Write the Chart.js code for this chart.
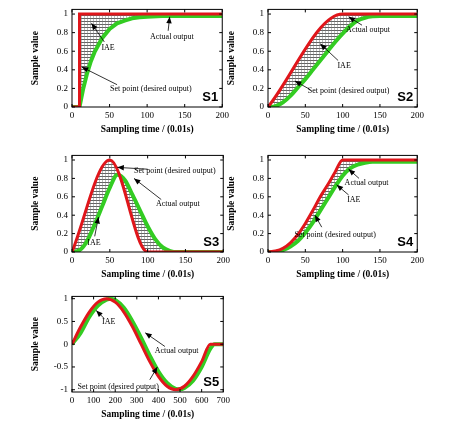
<!DOCTYPE html>
<html><head><meta charset="utf-8">
<script src="https://cdn.jsdelivr.net/npm/chart.js@4"></script>
<style>body{margin:0;background:#fff;width:474px;height:421px;position:relative;overflow:hidden}
.c{position:absolute}</style></head><body>
<div class="c" id="w1" style="left:30px;top:0;width:202px;height:135px"><canvas id="c1"></canvas></div>
<div class="c" id="w2" style="left:226px;top:0;width:201px;height:135px"><canvas id="c2"></canvas></div>
<div class="c" id="w3" style="left:30px;top:146px;width:203px;height:134px"><canvas id="c3"></canvas></div>
<div class="c" id="w4" style="left:226px;top:146px;width:201px;height:134px"><canvas id="c4"></canvas></div>
<div class="c" id="w5" style="left:30px;top:287px;width:203px;height:133px"><canvas id="c5"></canvas></div>
<script>
// ---- data ----
const s1SetT=[0,10,10,200], s1Set=[0,0,1,1];
const s1ActT=[0,10,15,20,25,30,40,50,60,70,80,90,100,120,140,160,200];
const s1Act=[0,0,0.2,0.36,0.49,0.59,0.74,0.84,0.9,0.93,0.955,0.965,0.972,0.978,0.98,0.98,0.98];
const s2SetT=[0,100,200], s2Set=[0,1,1];
const s2ActT=[0,10,20,30,40,50,60,70,80,90,100,110,120,130,140,150,200];
const s2Act=[0,0.01,0.05,0.12,0.21,0.3,0.4,0.5,0.6,0.7,0.79,0.87,0.93,0.96,0.975,0.98,0.98];
const s3SetT=[0,50,100,200], s3Set=[0,1,0,0];
const s3ActT=[0,10,20,30,40,50,60,70,80,90,100,110,120,130,140,200];
const s3Act=[0,0.02,0.12,0.3,0.5,0.7,0.84,0.78,0.62,0.45,0.28,0.14,0.05,0.01,0,0];
const s4SetT=[0,10,20,30,40,50,60,70,80,90,100,200];
const s4Set=[0,0.01,0.04,0.1,0.19,0.31,0.45,0.6,0.73,0.87,1,1];
const s4ActT=[0,10,20,30,40,50,60,70,80,90,100,110,120,130,140,150,200];
const s4Act=[0,0,0.02,0.06,0.12,0.21,0.32,0.45,0.58,0.71,0.83,0.91,0.95,0.97,0.98,0.98,0.98];
const s5SetT=[0,40,80,120,160,200,240,280,320,360,400,440,480,520,560,600,640,700];
const s5Set=[0,0.383,0.707,0.924,1,0.924,0.707,0.383,0,-0.383,-0.707,-0.924,-1,-0.924,-0.707,-0.383,0,0];
const s5ActT=[0,40,80,120,160,180,200,240,280,320,360,400,440,480,500,520,560,600,640,660,700];
const s5Act=[0,0.25,0.6,0.85,0.98,1,0.97,0.8,0.5,0.14,-0.25,-0.6,-0.85,-0.98,-0.99,-0.96,-0.8,-0.5,-0.1,0,0];
const ticks01=[0,0.2,0.4,0.6,0.8,1], ticks5=[-1,-0.5,0,0.5,1];
const xT200=[0,50,100,150,200], xT700=[0,100,200,300,400,500,600,700];
// annotations: text, text x/y, arrow from x/y, arrow tip x/y (data units)
const ann1=[["IAE",48,0.64,43,0.7,26,0.9],["Actual output",133,0.75,128,0.82,130,0.97],["Set point (desired output)",105,0.2,60,0.24,13,0.43]];
const ann2=[["Actual output",134,0.83,126,0.88,108,0.97],["IAE",102,0.44,94,0.5,70,0.68],["Set point (desired output)",108,0.17,56,0.19,36,0.28]];
const ann3=[["Set point (desired output)",136,0.88,100,0.9,60,0.92],["Actual output",140,0.52,118,0.57,82,0.8],["IAE",29,0.1,30,0.17,35,0.38]];
const ann4=[["Actual output",132,0.75,122,0.8,108,0.9],["IAE",115,0.57,108,0.62,92,0.73],["Set point (desired output)",90,0.19,72,0.27,63,0.4]];
const ann5=[["IAE",170,0.48,150,0.56,112,0.74],["Actual output",484,-0.14,430,-0.05,339,0.25],["Set point (desired output)",214,-0.94,360,-0.78,395,-0.5]];

const pc=document.createElement('canvas');pc.width=3;pc.height=3;
const px=pc.getContext('2d');px.fillStyle='rgba(255,255,255,0.6)';px.fillRect(0,0,3,3);
px.fillStyle='rgba(60,60,60,0.8)';px.fillRect(0,0,3,1);px.fillStyle='rgba(120,120,120,0.5)';px.fillRect(0,0,1,3);
const pat=px.createPattern(pc,'repeat');

const serif="'Liberation Serif', 'DejaVu Serif', serif";
function pts(t,v){return t.map((x,i)=>({x:x,y:v[i]}));}
function arrow(ctx,x1,y1,x2,y2){
  ctx.beginPath();ctx.moveTo(x1,y1);ctx.lineTo(x2,y2);ctx.stroke();
  const a=Math.atan2(y2-y1,x2-x1),L=7,w=0.4;
  ctx.beginPath();ctx.moveTo(x2,y2);ctx.lineTo(x2-L*Math.cos(a-w),y2-L*Math.sin(a-w));
  ctx.lineTo(x2-L*Math.cos(a+w),y2-L*Math.sin(a+w));ctx.closePath();ctx.fill();
}
function make(id,setT,setV,actT,actV,yMin,yMax,yTicks,xMax,xTicks,ann,label,tension){
  const deco={id:'deco',afterDatasetsDraw(ch){
    const c=ch.ctx,a=ch.chartArea,xs=ch.scales.x,ys=ch.scales.y;
    c.save();c.strokeStyle='#000';c.lineWidth=1;c.strokeRect(a.left,a.top,a.right-a.left,a.bottom-a.top);
    c.beginPath();
    xTicks.forEach(v=>{const p=xs.getPixelForValue(v);c.moveTo(p,a.bottom);c.lineTo(p,a.bottom-3);c.moveTo(p,a.top);c.lineTo(p,a.top+3);});
    yTicks.forEach(v=>{const p=ys.getPixelForValue(v);c.moveTo(a.left,p);c.lineTo(a.left+3,p);c.moveTo(a.right,p);c.lineTo(a.right-3,p);});
    c.stroke();
    c.fillStyle='#000';c.font="8px "+serif;c.textAlign='center';c.textBaseline='middle';c.lineWidth=0.8;
    ann.forEach(n=>{c.fillText(n[0],xs.getPixelForValue(n[1]),ys.getPixelForValue(n[2]));
      arrow(c,xs.getPixelForValue(n[3]),ys.getPixelForValue(n[4]),xs.getPixelForValue(n[5]),ys.getPixelForValue(n[6]));});
    c.font="bold 13px 'Liberation Sans', Arial, sans-serif";c.textAlign='right';c.textBaseline='bottom';
    c.fillText(label,a.right-4,a.bottom-3);c.restore();}};
  const mode=tension>0?'monotone':'default';
  new Chart(document.getElementById(id),{type:'line',
    data:{datasets:[
      {data:pts(setT,setV),borderColor:'#e0161b',borderWidth:3,pointRadius:0,tension:tension,cubicInterpolationMode:mode,fill:false},
      {data:pts(actT,actV),borderColor:'#33cc22',borderWidth:4,pointRadius:0,tension:tension,cubicInterpolationMode:mode,fill:{target:0},backgroundColor:pat},
      {data:pts(actT,actV),borderColor:'#113311',borderWidth:1,pointRadius:0,tension:tension,cubicInterpolationMode:mode,fill:false},
      {data:pts(setT,setV),borderColor:'#550000',borderWidth:0.8,pointRadius:0,tension:tension,cubicInterpolationMode:mode,fill:false}]},
    options:{responsive:true,maintainAspectRatio:false,animation:false,
      layout:{padding:{top:0,right:4,left:0,bottom:0}},
      plugins:{legend:{display:false},tooltip:{enabled:false}},
      scales:{
        x:{type:'linear',min:0,max:xMax,afterBuildTicks:s=>{s.ticks=xTicks.map(v=>({value:v}));},
          grid:{display:false,drawTicks:false,tickLength:0},border:{display:false},
          ticks:{color:'#000',font:{family:serif,size:9},padding:3,maxRotation:0,autoSkip:false,callback:v=>String(v)},
          title:{display:true,text:'Sampling time / (0.01s)',color:'#000',font:{family:serif,size:9.5,weight:'bold'},padding:{top:1,bottom:0}},
          afterFit:s=>{s.height=28;}},
        y:{min:yMin,max:yMax,afterBuildTicks:s=>{s.ticks=yTicks.map(v=>({value:v}));},
          grid:{display:false,drawTicks:false,tickLength:0},border:{display:false},
          ticks:{color:'#000',font:{family:serif,size:9},padding:4,callback:v=>String(v)},
          title:{display:true,text:'Sample value',color:'#000',font:{family:serif,size:9.5,weight:'bold'},padding:{top:0,bottom:3}},
          afterFit:s=>{s.width=42;}}}},
    plugins:[deco]});
}
make('c1',s1SetT,s1Set,s1ActT,s1Act,0,1.05,ticks01,200,xT200,ann1,'S1',0);
make('c2',s2SetT,s2Set,s2ActT,s2Act,0,1.05,ticks01,200,xT200,ann2,'S2',0.3);
make('c3',s3SetT,s3Set,s3ActT,s3Act,0,1.05,ticks01,200,xT200,ann3,'S3',0.3);
make('c4',s4SetT,s4Set,s4ActT,s4Act,0,1.05,ticks01,200,xT200,ann4,'S4',0.3);
make('c5',s5SetT,s5Set,s5ActT,s5Act,-1.05,1.05,ticks5,700,xT700,ann5,'S5',0.4);
</script></body></html>
